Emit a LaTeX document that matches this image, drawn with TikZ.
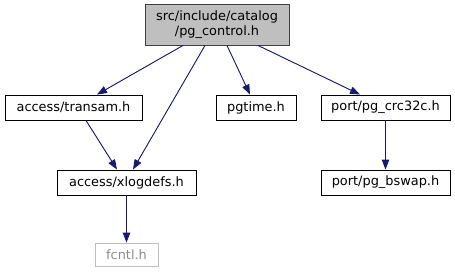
\documentclass[tikz,border=0pt]{standalone}
\usepackage{fontspec}
\setmainfont{DejaVu Sans}
\usetikzlibrary{arrows.meta}
\definecolor{edgec}{HTML}{191970}
\definecolor{topfill}{HTML}{BFBFBF}
\definecolor{topdraw}{HTML}{404040}
\definecolor{extc}{HTML}{BFBFBF}
\definecolor{exttext}{HTML}{8C8C8C}
\tikzset{
  filebox/.style={draw=black, fill=white, line width=0.9pt, inner sep=0pt,
    minimum height=25pt, font=\fontsize{12.9}{15.5}\selectfont},
  topbox/.style={filebox, fill=topfill, draw=topdraw, align=center},
  extbox/.style={filebox, draw=extc, text=exttext},
  edge/.style={draw=edgec, line width=0.9pt, -{Triangle[length=10pt,width=7.5pt]}, fill=edgec}
}
\begin{document}
\begin{tikzpicture}[x=1pt,y=-1pt]
\useasboundingbox (0,0) rectangle (455,276);
\node[topbox, minimum width=144pt, minimum height=41pt] (top) at (217,24.5) {src/include/catalog\\/pg\_control.h};
\node[filebox, minimum width=137pt] (transam) at (73.5,107.5) {access/transam.h};
\node[filebox, minimum width=80pt] (pgtime) at (256,107.5) {pgtime.h};
\node[filebox, minimum width=129pt] (crc) at (385.5,107.5) {port/pg\_crc32c.h};
\node[filebox, minimum width=139pt] (xlog) at (126.5,182.5) {access/xlogdefs.h};
\node[filebox, minimum width=129pt] (bswap) at (385.5,182.5) {port/pg\_bswap.h};
\node[extbox, minimum width=63pt, minimum height=23pt] (fcntl) at (126.5,254.5) {fcntl.h};
\draw[edge] ([xshift=-34pt]top.south) -- ([xshift=23.5pt]transam.north);
\draw[edge] ([xshift=-12pt]top.south) -- ([xshift=6.5pt]xlog.north);
\draw[edge] ([xshift=10pt]top.south) -- ([xshift=-6pt]pgtime.north);
\draw[edge] ([xshift=41pt]top.south) -- ([xshift=-25.5pt]crc.north);
\draw[edge] ([xshift=12.5pt]transam.south) -- ([xshift=-9.5pt]xlog.north);
\draw[edge] (xlog.south) -- (fcntl.north);
\draw[edge] (crc.south) -- (bswap.north);
\end{tikzpicture}
\end{document}
